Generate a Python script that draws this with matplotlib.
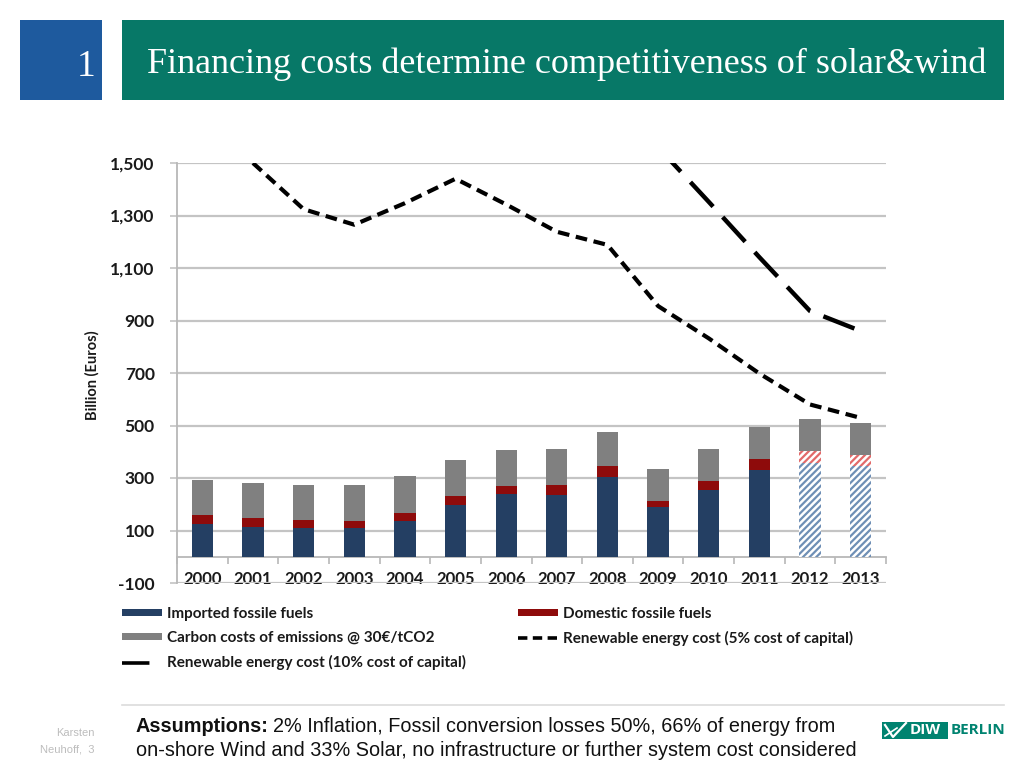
import matplotlib
matplotlib.use("Agg")
import matplotlib.pyplot as plt
from matplotlib.patches import Rectangle, Patch
from matplotlib.lines import Line2D
import numpy as np

# ---------------- data ----------------
years = ["2000", "2001", "2002", "2003", "2004", "2005", "2006",
         "2007", "2008", "2009", "2010", "2011", "2012", "2013"]
imported = [126, 114, 109, 109, 137, 198, 238, 236, 303, 188, 255, 331, 359, 346]
domestic = [34, 33, 32, 28, 29, 32, 33, 38, 41, 25, 34, 41, 42, 42]
carbon = [132, 133, 132, 136, 140, 139, 136, 138, 132, 123, 123, 124, 123, 123]
projected = [False] * 12 + [True, True]

re5_years = ["2001", "2002", "2003", "2004", "2005", "2006", "2007",
             "2008", "2009", "2010", "2011", "2012", "2013"]
re5 = [1500, 1324, 1265, 1347, 1440, 1342, 1238, 1188, 955, 832, 698, 580, 529]

re10_years = ["2009", "2010", "2011", "2012", "2013"]
re10 = [1560, 1352, 1141, 936, 860]

yticks = [-100, 100, 300, 500, 700, 900, 1100, 1300, 1500]

legend_labels = ["Imported fossile fuels", "Domestic fossile fuels",
                 "Carbon costs of emissions @ 30\u20ac/tCO2",
                 "Renewable energy cost (5% cost of capital)",
                 "Renewable energy cost (10% cost of capital)"]

title = "Financing costs determine competitiveness of solar&wind"

# ---------------- styles ----------------
W, H = 1024, 768
C_BLUE = "#243f63"
C_RED = "#8e0b0b"
C_GRAY = "#808080"
C_HBLUE = "#6f8fb5"
C_HRED = "#e26a6a"
C_TEAL = "#077867"
C_HDRBLUE = "#1e5a9e"
BOLD = "Lato"

plt.rcParams["hatch.linewidth"] = 1.6

fig = plt.figure(figsize=(W / 100, H / 100), dpi=100)


def fx(px):
    return px / W


def fy(py):
    return 1 - py / H


# header
fig.patches.append(Rectangle((fx(20), fy(100)), fx(82), 80 / H, transform=fig.transFigure,
                             facecolor=C_HDRBLUE, edgecolor="none"))
fig.patches.append(Rectangle((fx(122), fy(100)), fx(882), 80 / H, transform=fig.transFigure,
                             facecolor=C_TEAL, edgecolor="none"))
fig.text(fx(86), fy(67), "1", color="white", fontsize=27, family="Liberation Serif",
         ha="center", va="center")
fig.text(fx(147), fy(64), title, color="white", fontsize=26, family="Liberation Serif",
         ha="left", va="center")

# ---------------- axes ----------------
ax = fig.add_axes([fx(177), fy(583), fx(886) - fx(177), (583 - 163) / H])
x = np.arange(len(years))
bw = 0.42

for i in range(len(years)):
    b0 = 0
    if projected[i]:
        ax.bar(x[i], imported[i], bw, bottom=b0, facecolor="white", edgecolor=C_HBLUE,
               hatch="/////", linewidth=0, zorder=3)
        ax.bar(x[i], domestic[i], bw, bottom=b0 + imported[i], facecolor="white",
               edgecolor=C_HRED, hatch="/////", linewidth=0, zorder=3)
    else:
        ax.bar(x[i], imported[i], bw, bottom=b0, color=C_BLUE, linewidth=0, zorder=3)
        ax.bar(x[i], domestic[i], bw, bottom=b0 + imported[i], color=C_RED, linewidth=0, zorder=3)
    ax.bar(x[i], carbon[i], bw, bottom=b0 + imported[i] + domestic[i], color=C_GRAY,
           linewidth=0, zorder=3)

x5 = [years.index(y) for y in re5_years]
x10 = [years.index(y) for y in re10_years]
ax.plot(x5, re5, color="black", lw=3.0, dashes=(2.8, 1.6), zorder=4,
        solid_capstyle="butt", dash_capstyle="butt")
ax.plot(x10, re10, color="black", lw=3.2, dashes=(7.5, 3.2), zorder=4,
        dash_capstyle="butt")

ax.set_xlim(-0.5, len(years) - 0.5)
ax.set_ylim(-100, 1500)
ax.set_yticks(yticks)
ax.set_yticklabels([f"{v:,}" for v in yticks], fontsize=12.5, fontweight="bold",
                   family=BOLD, color="#1a1a1a")
ax.yaxis.grid(True, color="#c4c4c4", lw=1.6, zorder=0)
ax.set_axisbelow(True)
ax.tick_params(axis="y", length=5, color="#c4c4c4", width=1.2, pad=11)

for s in ["top", "right"]:
    ax.spines[s].set_visible(False)
ax.spines["left"].set_color("#b8b8b8")
ax.spines["left"].set_linewidth(1.3)
ax.spines["bottom"].set_position(("data", 0))
ax.spines["bottom"].set_color("#b8b8b8")
ax.spines["bottom"].set_linewidth(1.3)

ax.set_xticks(np.arange(len(years) + 1) - 0.5)
ax.set_xticklabels([])
ax.tick_params(axis="x", which="major", length=5, color="#b8b8b8", width=1.2, direction="out")
ax.set_xticks(x, minor=True)
ax.set_xticklabels(years, minor=True, fontsize=12, fontweight="bold", family=BOLD,
                   color="#1a1a1a")
ax.tick_params(axis="x", which="minor", length=0, pad=10)

fig.text(fx(92), fy(375), "Billion (Euros)", rotation=90, fontsize=10.5,
         fontweight="bold", family=BOLD, ha="center", va="center", color="#1a1a1a")

# ---------------- legend ----------------
h_imp = Patch(facecolor=C_BLUE, edgecolor="none")
h_dom = Patch(facecolor=C_RED, edgecolor="none")
h_car = Patch(facecolor=C_GRAY, edgecolor="none")
h_5 = Line2D([], [], color="black", lw=2.6, dashes=(2.6, 1.5), dash_capstyle="butt")
h_10 = Line2D([], [], color="black", lw=2.6, dashes=(7.6, 12), dash_capstyle="butt")

lkw = dict(loc="upper left", frameon=False, borderpad=0, borderaxespad=0,
           handlelength=2.6, handleheight=0.4, handletextpad=0.33, labelspacing=0.66,
           prop={"family": BOLD, "weight": "bold", "size": 11})
leg1 = fig.legend([h_imp, h_car, h_10], [legend_labels[0], legend_labels[2], legend_labels[4]],
                  bbox_to_anchor=(fx(122), fy(607)), **lkw)
leg2 = fig.legend([h_dom, h_5], [legend_labels[1], legend_labels[3]],
                  bbox_to_anchor=(fx(518), fy(607)), **lkw)
for lg in (leg1, leg2):
    for t in lg.get_texts():
        t.set_color("#1a1a1a")

# ---------------- footer ----------------
fig.add_artist(Line2D([fx(122), fx(1004)], [fy(705), fy(705)], color="#dcdcdc", lw=1.2,
                      transform=fig.transFigure))
fig.text(fx(95), fy(733), "Karsten", fontsize=8, color="#bdbdbd", ha="right", va="center",
         family="Liberation Sans")
fig.text(fx(95), fy(750), "Neuhoff,  3", fontsize=8, color="#bdbdbd", ha="right", va="center",
         family="Liberation Sans")

FS = 14.3
t_bold = fig.text(fx(136), fy(726), "Assumptions:", fontsize=FS, fontweight="bold",
                  family="Liberation Sans", ha="left", va="center", color="#111111")
fig.canvas.draw()
bb = t_bold.get_window_extent()
fig.text(bb.x1 / W + fx(4), fy(726),
         "2% Inflation, Fossil conversion losses 50%, 66% of energy from",
         fontsize=FS, family="Liberation Sans", ha="left", va="center", color="#111111")
fig.text(fx(136), fy(750),
         "on-shore Wind and 33% Solar, no infrastructure or further system cost considered",
         fontsize=FS, family="Liberation Sans", ha="left", va="center", color="#111111")

# DIW logo
fig.patches.append(Rectangle((fx(882), fy(739)), fx(66), 17 / H, transform=fig.transFigure,
                             facecolor="#008370", edgecolor="none"))
fig.add_artist(Line2D([fx(885), fx(893), fx(906)], [fy(725), fy(737), fy(723)], color="white",
                      lw=1.6, transform=fig.transFigure))
fig.add_artist(Line2D([fx(885), fx(897)], [fy(736), fy(728)], color="white",
                      lw=1.2, transform=fig.transFigure))
fig.text(fx(925), fy(730.5), "DIW", fontsize=11, fontweight="bold", color="white",
         family="Open Sans", ha="center", va="center")
fig.text(fx(951), fy(730.5), "BERLIN", fontsize=11, fontweight="bold", color="#008370",
         family="Open Sans", ha="left", va="center")

fig.savefig("out.png", dpi=100)
